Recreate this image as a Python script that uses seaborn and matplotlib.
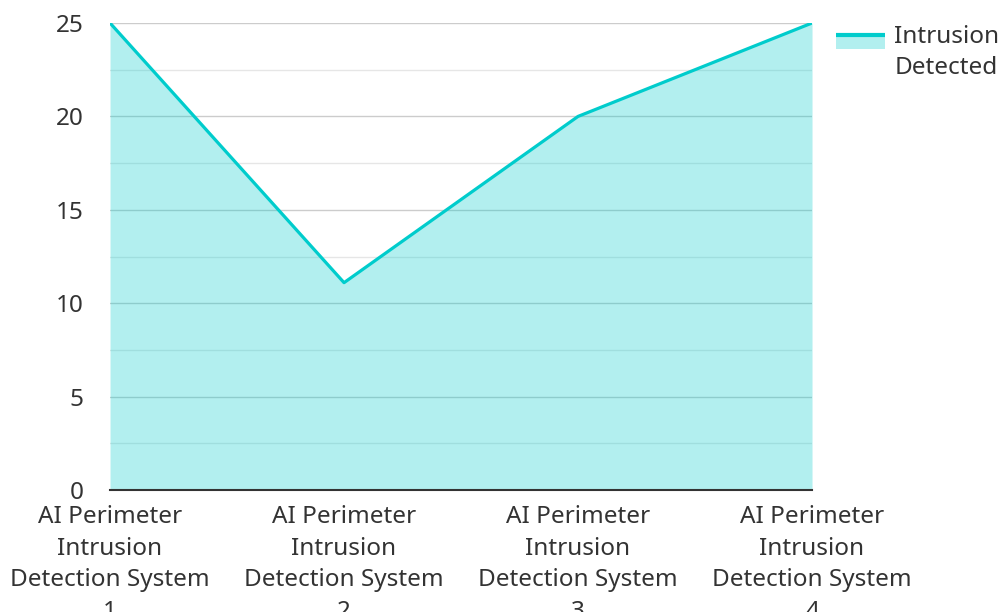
import numpy as np
import pandas as pd
import matplotlib
matplotlib.use("Agg")
import matplotlib.pyplot as plt
import seaborn as sns
from matplotlib.patches import Patch, Rectangle
from matplotlib.lines import Line2D
from matplotlib.legend_handler import HandlerBase

# data
systems = ["AI Perimeter\nIntrusion\nDetection System\n1",
           "AI Perimeter\nIntrusion\nDetection System\n2",
           "AI Perimeter\nIntrusion\nDetection System\n3",
           "AI Perimeter\nIntrusion\nDetection System\n4"]
intrusions = [25, 11.1, 20, 25]
series_name = "Intrusion\nDetected"
yticks = [0, 5, 10, 15, 20, 25]

line_color = "#00cccc"
text_color = "#333333"
fs = 17.5


class AreaHandler(HandlerBase):
    # line on top of a filled block, lined up with the first text line
    def create_artists(self, legend, orig_handle, xdescent, ydescent,
                       width, height, fontsize, trans):
        top = height * 0.95 + fontsize * 0.45
        h = fontsize * 0.6
        rect = Rectangle((-xdescent, -ydescent + top - h), width, h,
                         facecolor=line_color, alpha=0.3, edgecolor="none", transform=trans)
        ln = Line2D([-xdescent, -xdescent + width], [-ydescent + top, -ydescent + top],
                    color=line_color, lw=3, solid_capstyle="butt", transform=trans)
        return [rect, ln]


sns.set_style("white")
plt.rcParams['font.family'] = ['Noto Sans', 'DejaVu Sans']

df = pd.DataFrame({"x": np.arange(len(systems)), "y": intrusions})

fig = plt.figure(figsize=(10.04, 6.12), dpi=100)
ax = fig.add_axes([0.1096, 0.1993, 0.6992, 0.7631])

# grid (drawn under the translucent fill)
for v in np.arange(2.5, 25.1, 2.5):
    major = abs(v % 5) < 1e-9
    ax.axhline(v, color="#cccccc" if major else "#e6e6e6", lw=1, zorder=0)

ax.fill_between(df["x"], df["y"], 0, color=line_color, alpha=0.3, lw=0, zorder=1)
sns.lineplot(data=df, x="x", y="y", ax=ax, color=line_color, lw=2.3, zorder=3)

ax.set_xlim(0, 3)
ax.set_ylim(0, 25)
ax.set_yticks(yticks)
ax.set_yticklabels([str(t) for t in yticks], fontsize=fs, color=text_color)
ax.set_xticks(df["x"])
ax.set_xticklabels(systems, fontsize=fs, color=text_color, linespacing=1.42)
ax.tick_params(axis="y", length=0, pad=19)
ax.tick_params(axis="x", length=0, pad=11)
ax.set_xlabel("")
ax.set_ylabel("")
for s in ["top", "right", "left"]:
    ax.spines[s].set_visible(False)
ax.spines["bottom"].set_color(text_color)
ax.spines["bottom"].set_linewidth(1.5)
ax.spines["bottom"].set_zorder(4)

handle = Patch()
leg = fig.legend([handle], [series_name], handler_map={Patch: AreaHandler()},
                 loc="upper left", bbox_to_anchor=(0.823, 0.975),
                 frameon=False, fontsize=fs, handlelength=2.0, handleheight=0.7,
                 handletextpad=0.4, labelcolor=text_color, borderaxespad=0)
for t in leg.get_texts():
    t.set_linespacing(1.4)

fig.savefig("out.png", dpi=100)
